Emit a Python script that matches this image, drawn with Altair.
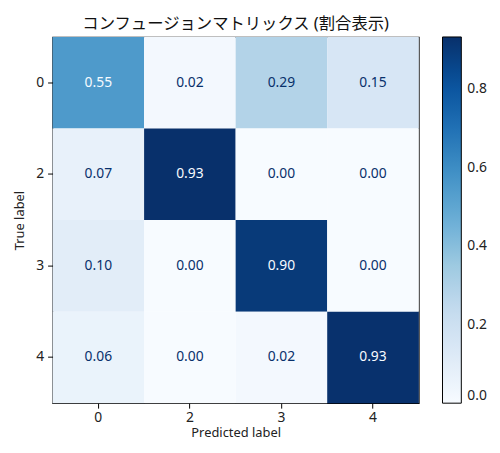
import altair as alt
import pandas as pd

labels = ["0", "2", "3", "4"]
true_labels = ["0"] * 4 + ["2"] * 4 + ["3"] * 4 + ["4"] * 4
pred_labels = labels * 4
values = [0.55, 0.02, 0.29, 0.15,
          0.07, 0.934, 0.00, 0.00,
          0.10, 0.00, 0.90, 0.00,
          0.06, 0.00, 0.02, 0.93]
colorbar_ticks = [0.0, 0.2, 0.4, 0.6, 0.8]
blues = ["#f7fbff", "#deebf7", "#c6dbef", "#9ecae1", "#6baed6",
         "#4292c6", "#2171b5", "#08519c", "#08306b"]

vmax = max(values)
vmin = min(values)
threshold = (vmax + vmin) / 2

df = pd.DataFrame({"true": true_labels, "pred": pred_labels, "value": values})
df["txt"] = df["value"].map(lambda v: f"{v:.2f}")
df["light"] = df["value"] > threshold

FONT = "'Noto Sans', 'Noto Sans CJK JP', sans-serif"
domain_stops = [vmin + (vmax - vmin) * i / (len(blues) - 1) for i in range(len(blues))]

x = alt.X("pred:O", sort=labels, title="Predicted label",
          scale=alt.Scale(paddingInner=0, paddingOuter=0),
          axis=alt.Axis(labelAngle=0, domain=False, tickColor="black", tickSize=5,
                        labelFontSize=14, labelColor="#222", labelPadding=3,
                        titleFontSize=13, titleFontWeight="normal", titleColor="#222",
                        titlePadding=2))
y = alt.Y("true:O", sort=labels, title="True label",
          scale=alt.Scale(paddingInner=0, paddingOuter=0),
          axis=alt.Axis(domain=False, tickColor="black", tickSize=5,
                        labelFontSize=14, labelColor="#222", labelPadding=4,
                        labelAngle=0, titleFontSize=13, titleFontWeight="normal",
                        titleColor="#222", titlePadding=9))

rects = alt.Chart(df).mark_rect().encode(
    x=x, y=y,
    color=alt.Color("value:Q",
                    scale=alt.Scale(type="linear", domain=domain_stops, range=blues, interpolate="rgb"),
                    legend=alt.Legend(title=None, orient="right", offset=24,
                                      gradientLength=370, gradientThickness=19,
                                      gradientStrokeColor="black", gradientStrokeWidth=1,
                                      values=colorbar_ticks, format=".1f",
                                      labelFontSize=14, labelColor="#222", labelOffset=6,
                                      direction="vertical"))
)

texts = alt.Chart(df).mark_text(fontSize=14, font=FONT).encode(
    x=alt.X("pred:O", sort=labels),
    y=alt.Y("true:O", sort=labels),
    text="txt:N",
    color=alt.condition("datum.light", alt.value("#f7fbff"), alt.value("#08306b")),
)

chart = (rects + texts).properties(
    width=370, height=370,
    title=alt.TitleParams("コンフュージョンマトリックス (割合表示)", fontSize=16.5,
                          fontWeight="normal", color="#111", font=FONT, offset=5),
).configure(font=FONT).configure_view(stroke="black", strokeWidth=1.2)

chart.save("out.html", embed_options={"renderer": "svg", "actions": False})
